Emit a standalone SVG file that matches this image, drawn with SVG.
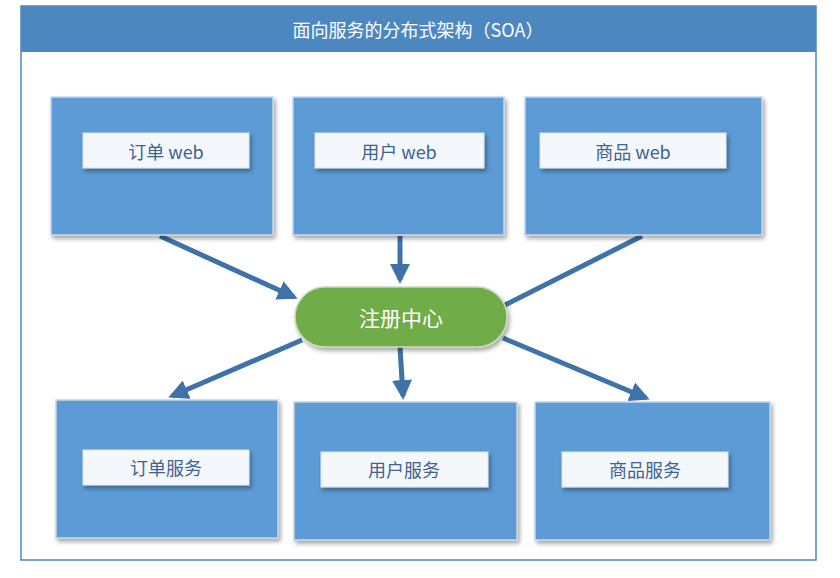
<svg xmlns="http://www.w3.org/2000/svg" width="840" height="578" viewBox="0 0 840 578">
<style>
.box{fill:#5b9bd5;stroke:#c8d6e5;stroke-width:1.5;filter:url(#sh)}
.lab{fill:#f4f7fb;stroke:#dde5ee;filter:url(#sh)}
.t{font-family:"Noto Sans CJK SC","Noto Sans",sans-serif;font-size:18px;fill:#3d6490;text-anchor:middle;dominant-baseline:central}
.c{stroke:#3e72a8;stroke-width:5;fill:none}
</style>
<defs>
<filter id="sh" x="-10%" y="-10%" width="125%" height="130%"><feDropShadow dx="2" dy="3" stdDeviation="2" flood-color="#000" flood-opacity="0.35"/></filter>
<marker id="ah" viewBox="0 0 10 10" refX="8" refY="5" markerWidth="4" markerHeight="4" orient="auto" markerUnits="strokeWidth"><path d="M0,0 L10,5 L0,10 z" fill="#3e72a8"/></marker>
</defs>
<rect x="21" y="6" width="795" height="554" fill="#fff" stroke="#4a86bf" stroke-width="1.5"/>
<rect x="21" y="6" width="795" height="46" fill="#4d87c0"/>
<text x="418" y="29" class="t" style="fill:#fff">面向服务的分布式架构（SOA）</text>
<g id="connectors">
<line class="c" x1="160" y1="236" x2="294" y2="297" marker-end="url(#ah)"/>
<line class="c" x1="400" y1="236" x2="400" y2="280" marker-end="url(#ah)"/>
<line class="c" x1="642" y1="236" x2="505" y2="305"/>
<line class="c" x1="302" y1="340" x2="172" y2="396" marker-end="url(#ah)"/>
<line class="c" x1="400" y1="347" x2="403" y2="396" marker-end="url(#ah)"/>
<line class="c" x1="503" y1="338" x2="646" y2="398" marker-end="url(#ah)"/>
</g>
<g id="web1"><rect class="box" x="51" y="97" width="222" height="138"/><rect class="lab" x="83" y="133" width="166" height="35"/><text class="t" x="166" y="151">订单 web</text></g>
<g id="web2"><rect class="box" x="293" y="97" width="211" height="138"/><rect class="lab" x="315" y="133" width="169" height="35"/><text class="t" x="399" y="151">用户 web</text></g>
<g id="web3"><rect class="box" x="525" y="97" width="237" height="138"/><rect class="lab" x="540" y="133" width="186" height="35"/><text class="t" x="633" y="151">商品 web</text></g>
<g id="reg"><rect x="295" y="287" width="212" height="60" rx="30" fill="#6fac46" stroke="#c9d9bc" stroke-width="1.5" filter="url(#sh)"/><text class="t" x="401" y="317" style="fill:#fff;font-size:21px">注册中心</text></g>
<g id="svc1"><rect class="box" x="56" y="400" width="222" height="138"/><rect class="lab" x="83" y="450" width="166" height="35"/><text class="t" x="166" y="467">订单服务</text></g>
<g id="svc2"><rect class="box" x="294" y="402" width="223" height="138"/><rect class="lab" x="321" y="452" width="167" height="35"/><text class="t" x="404" y="469">用户服务</text></g>
<g id="svc3"><rect class="box" x="535" y="402" width="235" height="138"/><rect class="lab" x="562" y="452" width="166" height="35"/><text class="t" x="645" y="469">商品服务</text></g>
</svg>
